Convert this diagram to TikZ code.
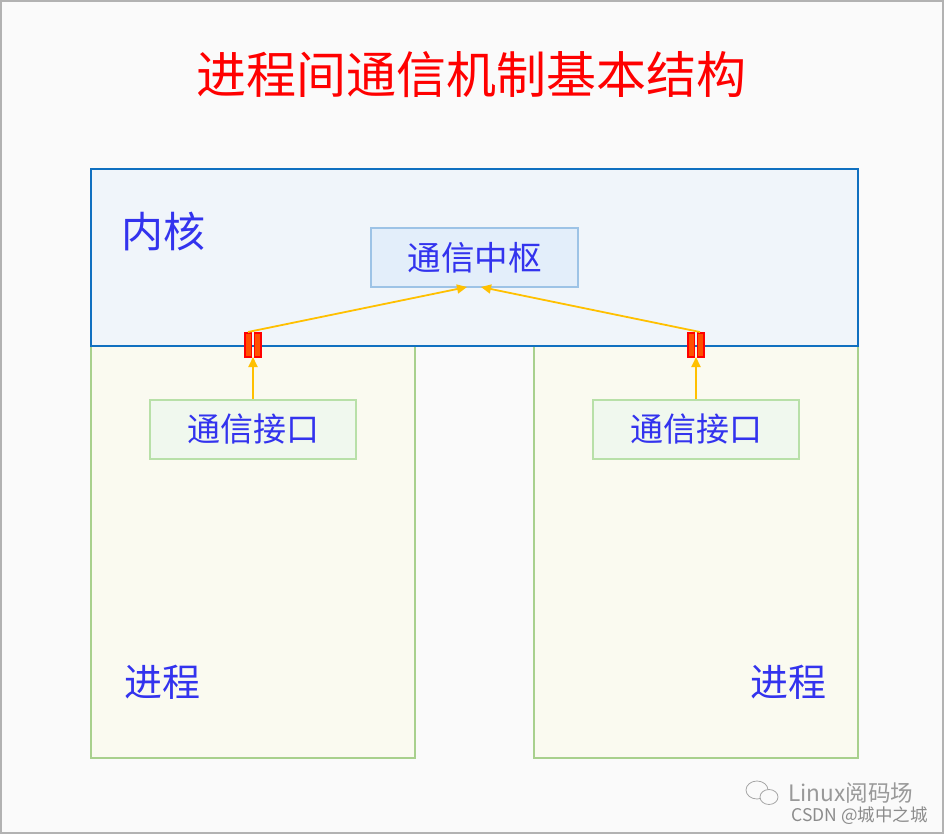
\documentclass[tikz,border=0pt]{standalone}
\usepackage{fontspec}
\setmainfont{Noto Sans CJK SC}
\usetikzlibrary{arrows.meta}
\definecolor{bg}{HTML}{FAFAFA}
\definecolor{kfill}{HTML}{F0F5FA}
\definecolor{kline}{HTML}{1070C0}
\definecolor{pfill}{HTML}{FAFAF0}
\definecolor{pline}{HTML}{A8D08D}
\definecolor{hubfill}{HTML}{E3EEFA}
\definecolor{hubline}{HTML}{9DC3E6}
\definecolor{iffill}{HTML}{F0F8EE}
\definecolor{ifline}{HTML}{B8E0A8}
\definecolor{txt}{HTML}{3333EE}
\definecolor{arr}{HTML}{FFC000}
\definecolor{barf}{HTML}{FF5000}
\tikzset{
  box/.style={draw, line width=1.2pt, inner sep=0pt},
  lbl/.style={text=txt, inner sep=0pt},
  bar/.style={draw=red, fill=barf, line width=1.5pt},
  yarrow/.style={draw=arr, line width=1.8pt, -{Triangle[length=10pt,width=9pt]}},
}
\begin{document}
\begin{tikzpicture}[x=1pt,y=-1pt]
\useasboundingbox (0,0) rectangle (944,834);
\fill[bg] (0,0) rectangle (944,834);
\draw[gray!60, line width=1.5pt] (1,1) rectangle (943,833);
\node[text=red, font=\fontsize{50}{54}\selectfont] (title) at (471,75) {进程间通信机制基本结构};
% processes
\draw[box, draw=pline, fill=pfill] (91,346) rectangle (415,758);
\draw[box, draw=pline, fill=pfill] (534,346) rectangle (858,758);
% kernel
\draw[box, draw=kline, fill=kfill] (91,169) rectangle (858,346);
\node[lbl, font=\fontsize{42}{46}\selectfont] (kern) at (163,231) {内核};
\node[lbl, font=\fontsize{38}{42}\selectfont] (p1) at (162,682) {进程};
\node[lbl, font=\fontsize{38}{42}\selectfont] (p2) at (788,682) {进程};
\node[box, draw=hubline, fill=hubfill, minimum width=207pt, minimum height=59pt, lbl, font=\fontsize{33.5}{36}\selectfont] (hub) at (474.5,257.5) {通信中枢};
\node[box, draw=ifline, fill=iffill, minimum width=206pt, minimum height=59pt, lbl, font=\fontsize{33}{36}\selectfont] (if1) at (253,429.5) {通信接口};
\node[box, draw=ifline, fill=iffill, minimum width=206pt, minimum height=59pt, lbl, font=\fontsize{33}{36}\selectfont] (if2) at (696,429.5) {通信接口};
% bars
\draw[bar] (245,333) rectangle (251.5,357);
\draw[bar] (254.5,333) rectangle (261,357);
\draw[bar] (688,333) rectangle (694.5,357);
\draw[bar] (697.5,333) rectangle (704,357);
\coordinate (b1) at (253,357);
\coordinate (b2) at (696,357);
\coordinate (t1) at (248,332);
\coordinate (t2) at (700,332);
\coordinate (h1) at (467,287);
\coordinate (h2) at (481,287);
\draw[yarrow] (if1.north) -- (b1);
\draw[yarrow] (if2.north) -- (b2);
\draw[yarrow] (t1) -- (h1);
\draw[yarrow] (t2) -- (h2);
% watermark
\draw[gray!70, line width=0.8pt] (757,790) ellipse (11pt and 9pt);
\draw[gray!70, line width=0.8pt, fill=bg] (769,797) ellipse (9pt and 7.5pt);
\node[text=gray!80, anchor=west, inner sep=0pt, font=\fontsize{22.6}{25}\selectfont] (wm1) at (788,793) {Linux阅码场};
\node[text=gray!90, anchor=east, inner sep=0pt, font=\fontsize{17.5}{20}\selectfont] (wm2) at (928,816) {CSDN @城中之城};
\end{tikzpicture}
\end{document}
